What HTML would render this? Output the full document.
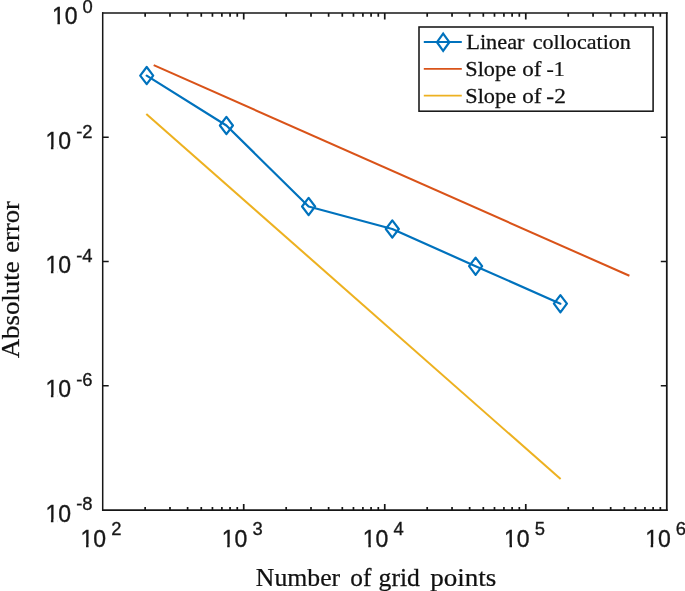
<!DOCTYPE html>
<html><head><meta charset="utf-8"><title>Convergence plot</title>
<style>html,body{margin:0;padding:0;background:#fff;overflow:hidden}svg{display:block}
.t{font-family:"Liberation Sans",sans-serif;fill:#161616;stroke:#1c1c1c;stroke-width:0.35px}
.s{font-family:"Liberation Serif",serif;fill:#111;stroke:#111;stroke-width:0.25px}
</style></head><body>
<svg width="685" height="591" viewBox="0 0 685 591">
<rect width="685" height="591" fill="#fff"/>
<path d="M102.7 137.28H108.70M666.8 137.28H660.80M102.7 261.55H108.70M666.8 261.55H660.80M102.7 385.83H108.70M666.8 385.83H660.80" stroke="#161616" stroke-width="1.45" fill="none"/>
<path d="M145.15 510.1V506.90M145.15 13.0V16.80M169.99 510.1V506.90M169.99 13.0V16.80M187.61 510.1V506.90M187.61 13.0V16.80M201.27 510.1V506.90M201.27 13.0V16.80M212.44 510.1V506.90M212.44 13.0V16.80M221.88 510.1V506.90M221.88 13.0V16.80M230.06 510.1V506.90M230.06 13.0V16.80M237.27 510.1V506.90M237.27 13.0V16.80M243.72 510.1V504.00M243.72 13.0V19.50M286.18 510.1V506.90M286.18 13.0V16.80M311.01 510.1V506.90M311.01 13.0V16.80M328.63 510.1V506.90M328.63 13.0V16.80M342.30 510.1V506.90M342.30 13.0V16.80M353.46 510.1V506.90M353.46 13.0V16.80M362.90 510.1V506.90M362.90 13.0V16.80M371.08 510.1V506.90M371.08 13.0V16.80M378.30 510.1V506.90M378.30 13.0V16.80M384.75 510.1V504.00M384.75 13.0V19.50M427.20 510.1V506.90M427.20 13.0V16.80M452.04 510.1V506.90M452.04 13.0V16.80M469.66 510.1V506.90M469.66 13.0V16.80M483.32 510.1V506.90M483.32 13.0V16.80M494.49 510.1V506.90M494.49 13.0V16.80M503.93 510.1V506.90M503.93 13.0V16.80M512.11 510.1V506.90M512.11 13.0V16.80M519.32 510.1V506.90M519.32 13.0V16.80M525.77 510.1V504.00M525.77 13.0V19.50M568.23 510.1V506.90M568.23 13.0V16.80M593.06 510.1V506.90M593.06 13.0V16.80M610.68 510.1V506.90M610.68 13.0V16.80M624.35 510.1V506.90M624.35 13.0V16.80M635.51 510.1V506.90M635.51 13.0V16.80M644.95 510.1V506.90M644.95 13.0V16.80M653.13 510.1V506.90M653.13 13.0V16.80M660.35 510.1V506.90M660.35 13.0V16.80" stroke="#161616" stroke-width="1.7" fill="none"/>
<path d="M102.7 12.2V510.90000000000003" stroke="#161616" stroke-width="1.5" fill="none"/><path d="M666.8 12.2V510.90000000000003" stroke="#161616" stroke-width="1.75" fill="none"/><path d="M102.0 13.0H667.5999999999999" stroke="#161616" stroke-width="1.7" fill="none"/><path d="M102.0 510.1H667.5999999999999" stroke="#161616" stroke-width="1.75" fill="none"/>
<path d="M153.7 65.1L629.4 275.8" stroke="#D95319" stroke-width="2.05" fill="none"/>
<path d="M146.3 113.9L560.6 479.1" stroke="#EDB120" stroke-width="2.05" fill="none"/>
<polyline points="146.7,75.6 226.4,125.5 308.6,206.5 392.3,229.0 475.6,266.2 560.4,303.7" stroke="#0072BD" stroke-width="2.2" fill="none" stroke-linejoin="round" stroke-linecap="round"/>
<path d="M146.7 67.00L153.2 75.6L146.7 84.20L140.2 75.6ZM226.4 116.90L232.9 125.5L226.4 134.10L219.9 125.5ZM308.6 197.90L315.1 206.5L308.6 215.10L302.1 206.5ZM392.3 220.40L398.8 229.0L392.3 237.60L385.8 229.0ZM475.6 257.60L482.1 266.2L475.6 274.80L469.1 266.2ZM560.4 295.10L566.9 303.7L560.4 312.30L553.9 303.7Z" stroke="#0072BD" stroke-width="2.2" fill="none" stroke-linejoin="round"/>
<text class="t" x="51.9" y="24.2" font-size="23">10</text><text class="t" x="82.5" y="12.6" font-size="18.4">0</text>
<path d="M52.80 21.90h4.6v3.9h-4.6zM59.92 21.90h4.4v3.9h-4.4z" fill="#fff"/>
<text class="t" x="45.4" y="149.2" font-size="23">10</text><text class="t" x="76.2" y="137.6" font-size="18.4">-2</text>
<path d="M46.30 146.90h4.6v3.9h-4.6zM53.42 146.90h4.4v3.9h-4.4z" fill="#fff"/>
<text class="t" x="45.4" y="273.3" font-size="23">10</text><text class="t" x="76.2" y="261.7" font-size="18.4">-4</text>
<path d="M46.30 271.00h4.6v3.9h-4.6zM53.42 271.00h4.4v3.9h-4.4z" fill="#fff"/>
<text class="t" x="45.4" y="397.2" font-size="23">10</text><text class="t" x="76.2" y="385.6" font-size="18.4">-6</text>
<path d="M46.30 394.90h4.6v3.9h-4.6zM53.42 394.90h4.4v3.9h-4.4z" fill="#fff"/>
<text class="t" x="45.4" y="521.7" font-size="23">10</text><text class="t" x="76.2" y="510.1" font-size="18.4">-8</text>
<path d="M46.30 519.40h4.6v3.9h-4.6zM53.42 519.40h4.4v3.9h-4.4z" fill="#fff"/>
<text class="t" x="80.55" y="546.6" font-size="23">10</text><text class="t" x="111.25" y="535" font-size="18.4">2</text>
<path d="M81.45 544.30h4.6v3.9h-4.6zM88.57 544.30h4.4v3.9h-4.4z" fill="#fff"/>
<text class="t" x="221.69" y="546.6" font-size="23">10</text><text class="t" x="252.39" y="535" font-size="18.4">3</text>
<path d="M222.59 544.30h4.6v3.9h-4.6zM229.72 544.30h4.4v3.9h-4.4z" fill="#fff"/>
<text class="t" x="362.84" y="546.6" font-size="23">10</text><text class="t" x="393.54" y="535" font-size="18.4">4</text>
<path d="M363.74 544.30h4.6v3.9h-4.6zM370.86 544.30h4.4v3.9h-4.4z" fill="#fff"/>
<text class="t" x="503.98" y="546.6" font-size="23">10</text><text class="t" x="534.68" y="535" font-size="18.4">5</text>
<path d="M504.88 544.30h4.6v3.9h-4.6zM512.00 544.30h4.4v3.9h-4.4z" fill="#fff"/>
<text class="t" x="645.13" y="546.6" font-size="23">10</text><text class="t" x="675.83" y="535" font-size="18.4">6</text>
<path d="M646.03 544.30h4.6v3.9h-4.6zM653.15 544.30h4.4v3.9h-4.4z" fill="#fff"/>
<text class="s" transform="translate(255.85 585.5) scale(0.9976 1)" font-size="25.8">Number</text>
<text class="s" transform="translate(350.27 585.5) scale(0.9829 1)" font-size="25.8">of</text>
<text class="s" transform="translate(378.58 585.5) scale(0.9944 1)" font-size="25.8">grid</text>
<text class="s" transform="translate(430.21 585.5) scale(1.0494 1)" font-size="25.8">points</text>
<text class="s" transform="translate(18.6 358.36) rotate(-90) scale(1.0413 1)" font-size="25.8">Absolute</text>
<text class="s" transform="translate(18.6 252.73) rotate(-90) scale(1.0292 1)" font-size="25.8">error</text>
<rect x="419" y="27" width="234.1" height="84.2" fill="#fff" stroke="#161616" stroke-width="1.55"/>
<path d="M423.8 42.0H461.8" stroke="#0072BD" stroke-width="2.2" fill="none"/>
<path d="M443.15 33.6L449.35 42.2L443.15 50.8L436.95 42.2Z" stroke="#0072BD" stroke-width="2.2" fill="none" stroke-linejoin="miter"/>
<path d="M423.8 68.8H461.8" stroke="#D95319" stroke-width="1.8" fill="none"/>
<path d="M423.8 95.6H461.8" stroke="#EDB120" stroke-width="1.8" fill="none"/>
<text class="s" transform="translate(466.24 49.0) scale(1.0541 1)" font-size="21.2">Linear</text>
<text class="s" transform="translate(532.72 49.0) scale(1.0427 1)" font-size="21.2">collocation</text>
<text class="s" transform="translate(465.25 75.9) scale(1.0515 1)" font-size="21.2">Slope</text>
<text class="s" transform="translate(522.28 75.9) scale(1.0904 1)" font-size="21.2">of</text>
<text class="s" transform="translate(546.42 75.9) scale(1.0368 1)" font-size="21.2">-1</text>
<text class="s" transform="translate(465.25 102.6) scale(1.0515 1)" font-size="21.2">Slope</text>
<text class="s" transform="translate(522.28 102.6) scale(1.0904 1)" font-size="21.2">of</text>
<text class="s" transform="translate(546.37 102.6) scale(1.1048 1)" font-size="21.2">-2</text>
</svg>
</body></html>
